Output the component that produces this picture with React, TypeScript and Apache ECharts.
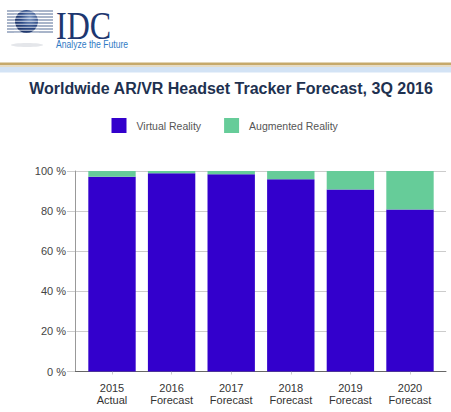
import { useEffect, useRef } from 'react';
import * as echarts from 'echarts';

// data
const categories = ['2015\nActual', '2016\nForecast', '2017\nForecast', '2018\nForecast', '2019\nForecast', '2020\nForecast'];
const virtualReality = [97.1, 98.9, 98.4, 95.9, 90.8, 80.8];
const augmentedReality = [2.9, 1.1, 1.6, 4.1, 9.2, 19.2];
const yTicks = [0, 20, 40, 60, 80, 100];

const VR_COLOR = '#3300cc';
const AR_COLOR = '#66cc99';
const FONT = 'Arial, "Liberation Sans", sans-serif';

export default function App() {
  const chartRef = useRef<HTMLDivElement>(null);

  useEffect(() => {
    if (!chartRef.current) return;
    const chart = echarts.init(chartRef.current, undefined, { renderer: 'svg' });

    // stripes of the globe logo
    const stripeYs = [11, 14, 17, 20, 23, 26, 29, 32];
    const stripes = stripeYs.map((y) => ({
      type: 'rect',
      shape: { x: 7, y: y - 0.7, width: 46, height: 1.4 },
      style: { fill: '#8c9cb8' },
      silent: true,
    }));
    const globeGaps = stripeYs.map((y) => ({
      type: 'rect',
      shape: { x: 14, y: y + 0.8, width: 25, height: 0.9 },
      style: { fill: '#ffffff', opacity: 0.85 },
      silent: true,
      z: 3,
    }));

    const option: echarts.EChartsOption = {
      animation: false,
      backgroundColor: '#ffffff',
      textStyle: { fontFamily: FONT },
      graphic: [
        // header logo
        ...stripes,
        {
          type: 'ellipse',
          shape: { cx: 27, cy: 45, rx: 16, ry: 2 },
          style: { fill: '#e4e6ea' },
          silent: true,
        },
        {
          type: 'circle',
          shape: { cx: 26.5, cy: 21.5, r: 11.5 },
          style: {
            fill: new echarts.graphic.RadialGradient(0.65, 0.35, 0.8, [
              { offset: 0, color: '#7f9bc6' },
              { offset: 0.5, color: '#2c4a86' },
              { offset: 1, color: '#14285a' },
            ]),
          },
          silent: true,
          z: 2,
        },
        ...globeGaps,
        {
          type: 'text',
          x: 56,
          y: 6,
          scaleX: 0.8,
          style: {
            text: 'IDC',
            font: '40px "Liberation Serif", "Times New Roman", serif',
            fill: '#1d3770',
          },
          silent: true,
        },
        {
          type: 'text',
          x: 56,
          y: 39.5,
          scaleX: 0.86,
          style: {
            text: 'Analyze the Future',
            font: '10px ' + FONT,
            fill: '#2f7ac4',
          },
          silent: true,
        },
        // header rules
        { type: 'rect', shape: { x: 0, y: 62.5, width: 451, height: 2.5 }, style: { fill: '#c6a96b' }, silent: true },
        { type: 'rect', shape: { x: 0, y: 65, width: 451, height: 2 }, style: { fill: '#e6dcc6' }, silent: true },
        { type: 'rect', shape: { x: 0, y: 67, width: 451, height: 5.5 }, style: { fill: '#d3e3f5' }, silent: true },
        // title
        {
          type: 'text',
          x: 231,
          y: 88,
          style: {
            text: 'Worldwide AR/VR Headset Tracker Forecast, 3Q 2016',
            font: 'bold 16px ' + FONT,
            fill: '#1e3150',
            align: 'center',
            verticalAlign: 'middle',
          },
          silent: true,
        },
      ],
      legend: {
        left: 111.5,
        top: 118,
        padding: 0,
        icon: 'rect',
        itemWidth: 15,
        itemHeight: 15,
        itemGap: 23,
        textStyle: { fontSize: 10.5, color: '#555555', padding: [0, 0, 0, 5] },
        data: ['Virtual Reality', 'Augmented Reality'],
      },
      grid: [
        { left: 75, right: 5, top: 171, bottom: 40.5 },
        { left: 82.2, right: 11.2, top: 171, bottom: 40.5 },
      ],
      xAxis: [
        {
          type: 'value',
          gridIndex: 0,
          min: 0,
          max: 1,
          axisLine: { show: true, onZero: false, lineStyle: { color: '#666666', width: 1 } },
          axisTick: { show: false },
          axisLabel: { show: false },
          splitLine: { show: false },
        },
        {
          type: 'category',
          gridIndex: 1,
          data: categories,
          axisLine: { show: false },
          axisTick: { show: true, alignWithLabel: true, length: 3, lineStyle: { color: '#cccccc' } },
          axisLabel: { fontSize: 11, lineHeight: 12, color: '#333333', margin: 10, interval: 0 },
          splitLine: { show: false },
        },
      ],
      yAxis: [
        {
          type: 'value',
          gridIndex: 0,
          min: 0,
          max: 100,
          interval: 20,
          axisLine: { show: true, lineStyle: { color: '#999999' } },
          axisTick: { show: true, length: 8, lineStyle: { color: '#cccccc' } },
          axisLabel: {
            fontSize: 11,
            color: '#444444',
            margin: 9,
            formatter: (v: number) => (yTicks.includes(v) ? `${v} %` : ''),
          },
          splitLine: { show: true, lineStyle: { color: '#cccccc' } },
        },
        {
          type: 'value',
          gridIndex: 1,
          min: 0,
          max: 100,
          show: false,
          splitLine: { show: false },
        },
      ],
      series: [
        {
          name: 'Virtual Reality',
          type: 'bar',
          stack: 'share',
          xAxisIndex: 1,
          yAxisIndex: 1,
          barWidth: '79.5%',
          itemStyle: { color: VR_COLOR },
          data: virtualReality,
        },
        {
          name: 'Augmented Reality',
          type: 'bar',
          stack: 'share',
          xAxisIndex: 1,
          yAxisIndex: 1,
          barWidth: '79.5%',
          itemStyle: { color: AR_COLOR },
          data: augmentedReality,
        },
      ],
    };

    chart.setOption(option);
    return () => {
      chart.dispose();
    };
  }, []);

  return (
    <div
      ref={chartRef}
      style={{ position: 'fixed', left: 0, top: 0, width: '451px', height: '412px' }}
    />
  );
}
